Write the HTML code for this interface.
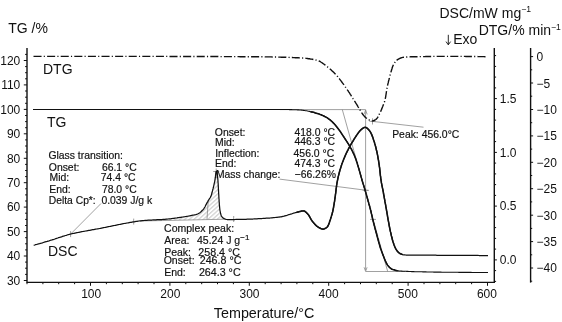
<!DOCTYPE html>
<html><head><meta charset="utf-8"><title>TG / DTG / DSC</title>
<style>html,body{margin:0;padding:0;background:#fff}svg{display:block}</style></head>
<body>
<svg width="562" height="322" viewBox="0 0 562 322">
<rect width="562" height="322" fill="#fff"/>
<g stroke="#111" stroke-width="1.4" fill="none" stroke-linecap="butt">
<path d="M27,48 V282.4 H495"/>
<path d="M494.3,48 V282.4"/>
<path d="M530.6,48 V282.6"/>
</g>
<g stroke="#111" stroke-width="1" fill="none">
<path d="M23.8,280.5H27M25.1,274.4H27M25.1,268.2H27M25.1,262.1H27M23.8,256.0H27M25.1,249.9H27M25.1,243.8H27M25.1,237.7H27M23.8,231.6H27M25.1,225.5H27M25.1,219.4H27M25.1,213.2H27M23.8,207.1H27M25.1,201.0H27M25.1,194.9H27M25.1,188.8H27M23.8,182.7H27M25.1,176.6H27M25.1,170.5H27M25.1,164.4H27M23.8,158.3H27M25.1,152.1H27M25.1,146.0H27M25.1,139.9H27M23.8,133.8H27M25.1,127.7H27M25.1,121.6H27M25.1,115.5H27M23.8,109.4H27M25.1,103.3H27M25.1,97.2H27M25.1,91.0H27M23.8,84.9H27M25.1,78.8H27M25.1,72.7H27M25.1,66.6H27M23.8,60.5H27M25.1,54.4H27M27.0,282.4V284.2M42.9,282.4V284.2M58.7,282.4V284.2M74.6,282.4V284.2M90.5,282.4V285.8M106.4,282.4V284.2M122.3,282.4V284.2M138.1,282.4V284.2M154.0,282.4V284.2M169.9,282.4V285.8M185.8,282.4V284.2M201.7,282.4V284.2M217.5,282.4V284.2M233.4,282.4V284.2M249.3,282.4V285.8M265.2,282.4V284.2M281.1,282.4V284.2M296.9,282.4V284.2M312.8,282.4V284.2M328.7,282.4V285.8M344.6,282.4V284.2M360.5,282.4V284.2M376.3,282.4V284.2M392.2,282.4V284.2M408.1,282.4V285.8M424.0,282.4V284.2M439.9,282.4V284.2M455.7,282.4V284.2M471.6,282.4V284.2M487.5,282.4V285.8M494.3,281.4h1.8M494.3,270.6h1.8M494.3,259.9h2.6M494.3,249.1h1.8M494.3,238.4h1.8M494.3,227.6h1.8M494.3,216.9h1.8M494.3,206.1h2.6M494.3,195.4h1.8M494.3,184.6h1.8M494.3,173.9h1.8M494.3,163.1h1.8M494.3,152.4h2.6M494.3,141.6h1.8M494.3,130.9h1.8M494.3,120.1h1.8M494.3,109.4h1.8M494.3,98.6h2.6M494.3,87.9h1.8M494.3,77.1h1.8M494.3,66.4h1.8M494.3,55.6h1.8M530.6,281.2h1.6M530.6,268.0h2.5M530.6,254.8h1.6M530.6,241.6h2.5M530.6,228.4h1.6M530.6,215.2h2.5M530.6,201.9h1.6M530.6,188.7h2.5M530.6,175.5h1.6M530.6,162.3h2.5M530.6,149.1h1.6M530.6,135.9h2.5M530.6,122.7h1.6M530.6,109.5h2.5M530.6,96.2h1.6M530.6,83.0h2.5M530.6,69.8h1.6M530.6,56.6h2.5"/>
</g>
<defs><pattern id="h" width="3.1" height="3.1" patternUnits="userSpaceOnUse" patternTransform="rotate(-42)"><line x1="0" y1="1.5" x2="3.1" y2="1.5" stroke="#8c8c8c" stroke-width="0.5"/></pattern></defs>
<path d="M150.0,220.1 L151.0,220.0 L152.0,220.0 L153.0,219.9 L154.0,219.9 L155.0,219.8 L156.0,219.8 L157.0,219.7 L158.0,219.7 L159.0,219.6 L160.0,219.6 L161.0,219.5 L162.0,219.5 L163.0,219.4 L164.0,219.4 L165.0,219.3 L166.0,219.2 L167.0,219.1 L168.0,219.0 L169.0,218.9 L170.0,218.8 L171.0,218.7 L172.0,218.5 L173.0,218.4 L174.0,218.3 L175.0,218.1 L176.0,218.0 L177.0,217.9 L178.0,217.7 L179.0,217.6 L180.0,217.4 L181.0,217.3 L181.9,217.1 L182.9,217.0 L183.9,216.8 L184.9,216.7 L185.9,216.5 L186.9,216.3 L187.9,216.2 L188.9,216.0 L189.8,215.8 L190.8,215.6 L191.8,215.4 L192.9,215.2 L193.9,215.0 L194.8,214.8 L195.8,214.6 L196.7,214.3 L197.6,214.0 L198.5,213.5 L199.4,213.0 L200.2,212.4 L201.0,211.7 L201.7,211.0 L202.4,210.3 L203.1,209.6 L203.7,208.8 L204.3,207.9 L204.8,207.1 L205.3,206.2 L205.7,205.3 L206.2,204.4 L206.6,203.5 L207.1,202.6 L207.6,201.8 L208.1,200.9 L208.6,200.0 L209.2,199.2 L209.7,198.3 L210.3,197.5 L210.8,196.6 L211.1,195.7 L211.5,194.8 L211.7,193.8 L212.0,192.8 L212.2,191.9 L212.5,190.9 L212.7,189.9 L213.0,188.9 L213.2,188.0 L213.5,187.0 L213.7,186.0 L213.9,185.0 L214.1,184.1 L214.3,183.1 L214.6,182.1 L214.8,181.1 L214.9,180.1 L215.1,179.1 L215.2,178.2 L215.4,177.2 L215.5,176.2 L215.6,175.1 L215.7,174.2 L215.8,173.2 L216.0,172.1 L216.4,171.2 L216.8,171.9 L217.0,173.0 L217.2,174.0 L217.4,175.0 L217.5,176.0 L217.6,177.0 L217.7,178.0 L217.8,179.0 L217.9,180.0 L218.0,181.0 L218.0,182.0 L218.1,183.0 L218.2,184.0 L218.2,185.0 L218.3,186.0 L218.3,187.0 L218.4,188.0 L218.4,189.0 L218.5,190.0 L218.5,191.0 L218.6,192.0 L218.6,193.0 L218.7,194.0 L218.8,195.0 L218.8,196.0 L218.9,197.0 L218.9,198.0 L219.0,199.0 L219.1,200.0 L219.1,201.0 L219.2,202.0 L219.3,203.0 L219.3,204.0 L219.4,205.0 L219.5,206.0 L219.6,207.0 L219.7,208.0 L219.8,209.0 L219.9,210.0 L220.1,211.0 L220.3,212.0 L220.5,213.0 L220.7,214.0 L221.0,214.9 L221.3,215.8 L221.9,216.7 L222.5,217.5 L223.3,218.1 L224.2,218.6 L225.1,219.0 L225.3,219.2 L150,220.8 Z" fill="url(#h)" stroke="none"/>
<g stroke="#828282" stroke-width="0.75" fill="none">
<path d="M140,221 L226,219.2"/>
<path d="M208.2,201 L207,219.3"/>
<path d="M101,203.5 L70.6,234.1"/>
<path d="M280,109.6 H365.6 V270"/>
<path d="M342.3,109.6 L387.7,271.5"/>
<path d="M365.6,271.5 H405"/>
<path d="M279.5,179.1 L368.7,190.6"/>
<path d="M372.5,121.4 L423.5,127.2"/>
<path d="M364.1,267.3 L365.6,271.3 L367.1,267.3"/>
<path d="M364.0,114.4 L365.6,110 L367.2,114.4"/>
<path d="M70.6,231.1v6 M133.7,218.6v6 M233.7,216v6 M216.2,168.5v6 M213.2,171.5h6 M372.5,118.3v6.2 M369.4,121.4h6.2 M370,219.4h6 M362.6,190.2h6"/>
</g>
<g stroke="#111" fill="none" stroke-linejoin="round" stroke-linecap="butt">
<path d="M33.7,245.3 L34.7,245.0 L35.6,244.7 L36.6,244.5 L37.6,244.2 L38.5,243.9 L39.5,243.6 L40.4,243.3 L41.4,243.1 L42.4,242.8 L43.3,242.5 L44.3,242.2 L45.2,241.9 L46.2,241.6 L47.2,241.4 L48.1,241.1 L49.1,240.8 L50.0,240.5 L51.0,240.2 L52.0,239.9 L52.9,239.6 L53.9,239.3 L54.8,239.0 L55.8,238.6 L56.7,238.3 L57.7,238.0 L58.6,237.7 L59.6,237.4 L60.5,237.1 L61.5,236.8 L62.5,236.4 L63.4,236.1 L64.4,235.8 L65.3,235.5 L66.3,235.3 L67.2,235.0 L68.2,234.7 L69.2,234.5 L70.1,234.2 L71.1,234.0 L72.1,233.7 L73.1,233.5 L74.0,233.3 L75.0,233.1 L76.0,232.9 L77.0,232.7 L77.9,232.5 L78.9,232.3 L79.9,232.1 L80.9,231.9 L81.9,231.7 L82.9,231.5 L83.9,231.3 L84.8,231.2 L85.8,231.0 L86.8,230.8 L87.8,230.6 L88.8,230.4 L89.8,230.3 L90.8,230.1 L91.8,229.9 L92.7,229.7 L93.7,229.6 L94.7,229.4 L95.7,229.2 L96.7,229.0 L97.7,228.8 L98.7,228.7 L99.7,228.5 L100.6,228.3 L101.6,228.1 L102.6,227.9 L103.6,227.7 L104.6,227.5 L105.6,227.3 L106.5,227.1 L107.5,226.9 L108.5,226.7 L109.5,226.5 L110.5,226.3 L111.4,226.1 L112.4,225.9 L113.4,225.7 L114.4,225.5 L115.4,225.3 L116.4,225.1 L117.3,224.9 L118.3,224.7 L119.3,224.5 L120.3,224.3 L121.3,224.1 L122.3,223.9 L123.2,223.7 L124.2,223.5 L125.2,223.3 L126.2,223.2 L127.2,223.0 L128.2,222.8 L129.2,222.6 L130.1,222.4 L131.1,222.3 L132.1,222.1 L133.1,221.9 L134.1,221.8 L135.1,221.6 L136.1,221.4 L137.1,221.3 L138.1,221.1 L139.0,221.0 L140.0,220.9 L141.0,220.8 L142.0,220.7 L143.0,220.6 L144.0,220.5 L145.0,220.4 L146.0,220.4 L147.0,220.3 L148.0,220.2 L149.0,220.2 L150.0,220.1 L151.0,220.0 L152.0,220.0 L153.0,219.9 L154.0,219.9 L155.0,219.8 L156.0,219.8 L157.0,219.7 L158.0,219.7 L159.0,219.6 L160.0,219.6 L161.0,219.5 L162.0,219.5 L163.0,219.4 L164.0,219.4 L165.0,219.3 L166.0,219.2 L167.0,219.1 L168.0,219.0 L169.0,218.9 L170.0,218.8 L171.0,218.7 L172.0,218.5 L173.0,218.4 L174.0,218.3 L175.0,218.1 L176.0,218.0 L177.0,217.9 L178.0,217.7 L179.0,217.6 L180.0,217.4 L181.0,217.3 L181.9,217.1 L182.9,217.0 L183.9,216.8 L184.9,216.7 L185.9,216.5 L186.9,216.3 L187.9,216.2 L188.9,216.0 L189.8,215.8 L190.8,215.6 L191.8,215.4 L192.9,215.2 L193.9,215.0 L194.8,214.8 L195.8,214.6 L196.7,214.3 L197.6,214.0 L198.5,213.5 L199.4,213.0 L200.2,212.4 L201.0,211.7 L201.7,211.0 L202.4,210.3 L203.1,209.6 L203.7,208.8 L204.3,207.9 L204.8,207.1 L205.3,206.2 L205.7,205.3 L206.2,204.4 L206.6,203.5 L207.1,202.6 L207.6,201.8 L208.1,200.9 L208.6,200.0 L209.2,199.2 L209.7,198.3 L210.3,197.5 L210.8,196.6 L211.1,195.7 L211.5,194.8 L211.7,193.8 L212.0,192.8 L212.2,191.9 L212.5,190.9 L212.7,189.9 L213.0,188.9 L213.2,188.0 L213.5,187.0 L213.7,186.0 L213.9,185.0 L214.1,184.1 L214.3,183.1 L214.6,182.1 L214.8,181.1 L214.9,180.1 L215.1,179.1 L215.2,178.2 L215.4,177.2 L215.5,176.2 L215.6,175.1 L215.7,174.2 L215.8,173.2 L216.0,172.1 L216.4,171.2 L216.8,171.9 L217.0,173.0 L217.2,174.0 L217.4,175.0 L217.5,176.0 L217.6,177.0 L217.7,178.0 L217.8,179.0 L217.9,180.0 L218.0,181.0 L218.0,182.0 L218.1,183.0 L218.2,184.0 L218.2,185.0 L218.3,186.0 L218.3,187.0 L218.4,188.0 L218.4,189.0 L218.5,190.0 L218.5,191.0 L218.6,192.0 L218.6,193.0 L218.7,194.0 L218.8,195.0 L218.8,196.0 L218.9,197.0 L218.9,198.0 L219.0,199.0 L219.1,200.0 L219.1,201.0 L219.2,202.0 L219.3,203.0 L219.3,204.0 L219.4,205.0 L219.5,206.0 L219.6,207.0 L219.7,208.0 L219.8,209.0 L219.9,210.0 L220.1,211.0 L220.3,212.0 L220.5,213.0 L220.7,214.0 L221.0,214.9 L221.3,215.8 L221.9,216.7 L222.5,217.5 L223.3,218.1 L224.2,218.6 L225.1,219.0 L226.1,219.3 L227.0,219.5 L228.0,219.5 L229.0,219.5 L230.0,219.5 L231.0,219.5 L232.0,219.5 L233.0,219.5 L234.0,219.5 L235.0,219.5 L236.0,219.4 L237.0,219.4 L238.1,219.4 L239.1,219.4 L240.1,219.4 L241.1,219.4 L242.1,219.4 L243.1,219.3 L244.1,219.3 L245.1,219.3 L246.1,219.3 L247.1,219.2 L248.1,219.2 L249.1,219.1 L250.1,219.1 L251.1,219.1 L252.1,219.0 L253.1,219.0 L254.1,218.9 L255.1,218.9 L256.1,218.8 L257.1,218.8 L258.1,218.7 L259.1,218.6 L260.1,218.6 L261.1,218.5 L262.1,218.5 L263.1,218.4 L264.1,218.4 L265.1,218.3 L266.1,218.2 L267.1,218.2 L268.1,218.1 L269.1,218.0 L270.1,218.0 L271.1,217.9 L272.1,217.8 L273.1,217.7 L274.1,217.6 L275.1,217.5 L276.1,217.4 L277.1,217.3 L278.1,217.2 L279.1,217.1 L280.1,216.9 L281.1,216.8 L282.0,216.6 L283.0,216.4 L284.0,216.2 L284.9,215.9 L285.9,215.6 L286.9,215.3 L287.8,215.0 L288.8,214.7 L289.8,214.4 L290.7,214.1 L291.7,213.8 L292.6,213.5 L293.6,213.2 L294.6,212.9 L295.5,212.6 L296.5,212.4 L297.4,212.1 L298.4,211.9 L299.4,211.6 L300.4,211.4 L301.4,211.1 L302.4,211.0 L303.4,210.9 L304.3,211.0 L305.1,211.5 L306.0,212.2 L306.8,213.0 L307.5,213.7 L308.1,214.4 L308.7,215.2 L309.2,216.0 L309.7,216.9 L310.2,217.8 L310.7,218.7 L311.2,219.6 L311.8,220.5 L312.4,221.3 L313.0,222.1 L313.6,222.8 L314.3,223.6 L315.0,224.4 L315.7,225.1 L316.4,225.8 L317.2,226.4 L318.0,227.0 L318.8,227.5 L319.8,228.0 L320.7,228.5 L321.7,228.9 L322.6,229.1 L323.5,229.1 L324.5,228.8 L325.5,228.3 L326.4,227.7 L327.1,227.1 L327.7,226.4 L328.1,225.6 L328.6,224.7 L328.9,223.7 L329.3,222.7 L329.6,221.7 L329.9,220.7 L330.3,219.7 L330.6,218.8 L330.9,217.8 L331.2,216.9 L331.5,215.9 L331.8,214.9 L332.1,214.0 L332.3,213.0 L332.6,212.0 L332.8,211.1 L333.0,210.1 L333.2,209.1 L333.4,208.1 L333.6,207.1 L333.7,206.1 L333.9,205.2 L334.1,204.2 L334.2,203.2 L334.4,202.2 L334.6,201.2 L334.7,200.2 L334.8,199.2 L335.0,198.2 L335.1,197.2 L335.3,196.2 L335.4,195.2 L335.5,194.2 L335.7,193.2 L335.8,192.2 L335.9,191.3 L336.0,190.3 L336.1,189.3 L336.2,188.3 L336.4,187.3 L336.5,186.3 L336.6,185.3 L336.8,184.3 L336.9,183.3 L337.1,182.3 L337.3,181.3 L337.5,180.4 L337.7,179.4 L337.9,178.4 L338.1,177.4 L338.3,176.4 L338.6,175.4 L338.8,174.5 L339.1,173.5 L339.3,172.5 L339.6,171.6 L339.8,170.6 L340.1,169.6 L340.4,168.7 L340.7,167.7 L341.0,166.8 L341.3,165.8 L341.6,164.9 L341.9,163.9 L342.3,163.0 L342.6,162.0 L343.0,161.1 L343.4,160.1 L343.7,159.2 L344.1,158.3 L344.5,157.4 L344.9,156.4 L345.3,155.5 L345.7,154.6 L346.1,153.7 L346.5,152.8 L347.0,151.9 L347.4,151.0 L347.9,150.1 L348.3,149.2 L348.8,148.3 L349.3,147.4 L349.8,146.6 L350.2,145.7 L350.7,144.8 L351.2,143.9 L351.7,143.1 L352.3,142.2 L352.8,141.3 L353.3,140.5 L353.8,139.6 L354.3,138.8 L354.9,137.9 L355.4,137.1 L356.0,136.3 L356.5,135.4 L357.1,134.6 L357.7,133.7 L358.3,132.9 L358.9,132.1 L359.5,131.3 L360.2,130.6 L360.9,129.9 L361.7,129.2 L362.5,128.5 L363.4,127.9 L364.3,127.5 L365.1,127.3 L366.0,127.5 L366.9,128.0 L367.7,128.7 L368.5,129.5 L369.2,130.3 L369.8,131.1 L370.3,131.8 L370.8,132.7 L371.2,133.6 L371.7,134.5 L372.0,135.4 L372.4,136.4 L372.8,137.4 L373.1,138.4 L373.4,139.4 L373.7,140.3 L374.1,141.3 L374.4,142.2 L374.6,143.2 L374.9,144.1 L375.2,145.1 L375.5,146.1 L375.7,147.1 L376.0,148.0 L376.2,149.0 L376.4,150.0 L376.7,151.0 L376.9,151.9 L377.1,152.9 L377.3,153.9 L377.5,154.9 L377.7,155.9 L377.9,156.8 L378.0,157.8 L378.2,158.8 L378.4,159.8 L378.6,160.8 L378.7,161.8 L378.9,162.8 L379.0,163.8 L379.2,164.8 L379.3,165.8 L379.4,166.8 L379.6,167.7 L379.7,168.7 L379.8,169.7 L379.9,170.7 L380.0,171.7 L380.1,172.7 L380.2,173.7 L380.3,174.7 L380.4,175.7 L380.6,176.7 L380.7,177.7 L380.8,178.7 L381.0,179.7 L381.1,180.7 L381.3,181.7 L381.4,182.7 L381.6,183.6 L381.8,184.6 L382.0,185.6 L382.2,186.6 L382.4,187.6 L382.6,188.6 L382.8,189.5 L383.0,190.5 L383.2,191.5 L383.4,192.5 L383.5,193.5 L383.7,194.5 L383.9,195.5 L384.1,196.4 L384.2,197.4 L384.4,198.4 L384.6,199.4 L384.8,200.4 L384.9,201.4 L385.1,202.4 L385.3,203.4 L385.5,204.3 L385.7,205.3 L385.8,206.3 L386.0,207.3 L386.2,208.3 L386.4,209.3 L386.5,210.3 L386.7,211.2 L386.9,212.2 L387.0,213.2 L387.2,214.2 L387.4,215.2 L387.5,216.2 L387.7,217.2 L387.9,218.2 L388.0,219.2 L388.2,220.1 L388.4,221.1 L388.6,222.1 L388.8,223.1 L389.0,224.1 L389.1,225.1 L389.3,226.1 L389.5,227.0 L389.7,228.0 L389.9,229.0 L390.1,230.0 L390.3,231.0 L390.5,231.9 L390.8,232.9 L391.0,233.9 L391.2,234.9 L391.4,235.9 L391.7,236.8 L391.9,237.8 L392.2,238.8 L392.4,239.8 L392.7,240.7 L393.0,241.7 L393.3,242.6 L393.6,243.6 L393.9,244.5 L394.3,245.5 L394.7,246.5 L395.1,247.4 L395.5,248.3 L396.0,249.2 L396.5,250.0 L397.0,250.8 L397.7,251.6 L398.4,252.4 L399.2,253.0 L400.0,253.6 L400.9,253.9 L401.8,254.3 L402.8,254.6 L403.8,254.8 L404.8,254.9 L405.8,255.0 L406.8,255.0 L407.8,255.1 L408.8,255.1 L409.8,255.1 L410.8,255.1 L411.8,255.1 L412.8,255.1 L413.8,255.1 L414.8,255.1 L415.8,255.2 L416.8,255.2 L417.8,255.2 L418.8,255.2 L419.8,255.2 L420.8,255.2 L421.8,255.2 L422.8,255.2 L423.9,255.2 L424.9,255.2 L425.9,255.2 L426.9,255.2 L427.9,255.2 L428.9,255.2 L429.9,255.2 L430.9,255.2 L431.9,255.2 L432.9,255.2 L433.9,255.2 L434.9,255.2 L435.9,255.2 L436.9,255.3 L437.9,255.3 L438.9,255.3 L439.9,255.3 L440.9,255.3 L441.9,255.3 L442.9,255.3 L443.9,255.3 L444.9,255.3 L445.9,255.3 L446.9,255.3 L447.9,255.3 L448.9,255.3 L449.9,255.3 L450.9,255.3 L451.9,255.3 L452.9,255.3 L453.9,255.3 L454.9,255.3 L455.9,255.3 L456.9,255.3 L457.9,255.3 L458.9,255.3 L459.9,255.4 L460.9,255.4 L461.9,255.4 L462.9,255.4 L463.9,255.4 L464.9,255.4 L465.9,255.4 L467.0,255.4 L468.0,255.4 L469.0,255.4 L470.0,255.4 L471.0,255.4 L472.0,255.4 L473.0,255.4 L474.0,255.4 L475.0,255.4 L476.0,255.4 L477.0,255.4 L478.0,255.4 L479.0,255.5 L480.0,255.5 L481.0,255.5 L482.0,255.5 L483.0,255.5 L484.0,255.5 L485.0,255.5 L486.0,255.5 L487.0,255.5 L488.0,255.5" stroke-width="1.25"/>
<path d="M33.0,109.5 L34.0,109.5 L35.0,109.5 L36.0,109.5 L37.0,109.5 L38.0,109.5 L39.0,109.5 L40.0,109.5 L41.0,109.5 L42.0,109.5 L43.0,109.5 L44.0,109.5 L45.0,109.5 L46.0,109.5 L47.0,109.5 L48.0,109.5 L49.0,109.5 L50.0,109.5 L51.0,109.5 L52.0,109.5 L53.0,109.5 L54.0,109.5 L55.0,109.5 L56.1,109.5 L57.1,109.5 L58.1,109.5 L59.1,109.5 L60.1,109.5 L61.1,109.5 L62.1,109.5 L63.1,109.5 L64.1,109.5 L65.1,109.5 L66.1,109.5 L67.1,109.5 L68.1,109.5 L69.1,109.5 L70.1,109.5 L71.1,109.5 L72.1,109.5 L73.1,109.5 L74.1,109.5 L75.1,109.5 L76.1,109.5 L77.1,109.5 L78.1,109.5 L79.1,109.5 L80.1,109.5 L81.1,109.5 L82.1,109.5 L83.1,109.5 L84.1,109.5 L85.1,109.5 L86.1,109.5 L87.1,109.5 L88.1,109.5 L89.1,109.5 L90.1,109.5 L91.1,109.5 L92.1,109.5 L93.1,109.5 L94.1,109.5 L95.1,109.5 L96.1,109.5 L97.1,109.5 L98.1,109.5 L99.1,109.5 L100.1,109.5 L101.2,109.5 L102.2,109.5 L103.2,109.5 L104.2,109.5 L105.2,109.5 L106.2,109.5 L107.2,109.5 L108.2,109.5 L109.2,109.5 L110.2,109.5 L111.2,109.5 L112.2,109.5 L113.2,109.5 L114.2,109.5 L115.2,109.5 L116.2,109.5 L117.2,109.5 L118.2,109.5 L119.2,109.5 L120.2,109.5 L121.2,109.5 L122.2,109.5 L123.2,109.5 L124.2,109.5 L125.2,109.5 L126.2,109.5 L127.2,109.5 L128.2,109.5 L129.2,109.5 L130.2,109.5 L131.2,109.5 L132.2,109.5 L133.2,109.5 L134.2,109.5 L135.2,109.5 L136.2,109.5 L137.2,109.5 L138.2,109.5 L139.2,109.5 L140.2,109.5 L141.2,109.5 L142.2,109.5 L143.2,109.5 L144.2,109.5 L145.2,109.5 L146.3,109.5 L147.3,109.5 L148.3,109.5 L149.3,109.5 L150.3,109.5 L151.3,109.5 L152.3,109.5 L153.3,109.5 L154.3,109.5 L155.3,109.5 L156.3,109.5 L157.3,109.5 L158.3,109.5 L159.3,109.5 L160.3,109.5 L161.3,109.5 L162.3,109.5 L163.3,109.5 L164.3,109.5 L165.3,109.5 L166.3,109.5 L167.3,109.5 L168.3,109.5 L169.3,109.5 L170.3,109.5 L171.3,109.5 L172.3,109.5 L173.3,109.5 L174.3,109.5 L175.3,109.5 L176.3,109.5 L177.3,109.5 L178.3,109.5 L179.3,109.5 L180.3,109.5 L181.3,109.5 L182.3,109.5 L183.3,109.5 L184.3,109.5 L185.3,109.5 L186.3,109.5 L187.3,109.5 L188.3,109.5 L189.3,109.5 L190.3,109.5 L191.4,109.5 L192.4,109.5 L193.4,109.5 L194.4,109.5 L195.4,109.5 L196.4,109.5 L197.4,109.5 L198.4,109.5 L199.4,109.5 L200.4,109.5 L201.4,109.5 L202.4,109.5 L203.4,109.5 L204.4,109.5 L205.4,109.5 L206.4,109.5 L207.4,109.5 L208.4,109.5 L209.4,109.5 L210.4,109.5 L211.4,109.5 L212.4,109.5 L213.4,109.5 L214.4,109.5 L215.4,109.5 L216.4,109.5 L217.4,109.5 L218.4,109.5 L219.4,109.5 L220.4,109.5 L221.4,109.5 L222.4,109.5 L223.4,109.5 L224.4,109.5 L225.4,109.5 L226.4,109.5 L227.4,109.5 L228.4,109.5 L229.4,109.5 L230.4,109.5 L231.4,109.5 L232.4,109.5 L233.4,109.5 L234.4,109.5 L235.5,109.5 L236.5,109.5 L237.5,109.5 L238.5,109.5 L239.5,109.5 L240.5,109.5 L241.5,109.5 L242.5,109.5 L243.5,109.5 L244.5,109.5 L245.5,109.5 L246.5,109.5 L247.5,109.5 L248.5,109.5 L249.5,109.5 L250.5,109.5 L251.5,109.5 L252.5,109.5 L253.5,109.5 L254.5,109.5 L255.5,109.5 L256.5,109.5 L257.5,109.5 L258.5,109.5 L259.5,109.5 L260.5,109.5 L261.5,109.5 L262.5,109.5 L263.5,109.5 L264.5,109.5 L265.5,109.5 L266.5,109.5 L267.5,109.5 L268.5,109.5 L269.5,109.5 L270.5,109.5 L271.5,109.5 L272.5,109.5 L273.5,109.5 L274.5,109.5 L275.5,109.5 L276.5,109.5 L277.5,109.5 L278.5,109.5 L279.5,109.5 L280.6,109.5 L281.6,109.5 L282.6,109.5 L283.6,109.5 L284.6,109.5 L285.6,109.5 L286.6,109.5 L287.6,109.5 L288.6,109.5 L289.6,109.6 L290.6,109.6 L291.6,109.6 L292.6,109.7 L293.6,109.7 L294.6,109.7 L295.6,109.8 L296.6,109.8 L297.6,109.9 L298.6,109.9 L299.6,110.0 L300.6,110.0 L301.6,110.1 L302.6,110.2 L303.6,110.4 L304.6,110.5 L305.6,110.7 L306.6,110.8 L307.5,111.0 L308.5,111.2 L309.5,111.4 L310.5,111.7 L311.5,111.9 L312.4,112.1 L313.4,112.3 L314.4,112.6 L315.3,112.9 L316.3,113.2 L317.3,113.5 L318.3,113.8 L319.2,114.1 L320.2,114.5 L321.1,114.8 L322.0,115.2 L322.9,115.6 L323.8,116.0 L324.7,116.5 L325.6,116.9 L326.5,117.4 L327.3,117.9 L328.1,118.5 L329.0,119.1 L329.8,119.7 L330.6,120.4 L331.3,121.0 L332.1,121.7 L332.8,122.4 L333.5,123.1 L334.2,123.8 L334.8,124.5 L335.5,125.3 L336.1,126.1 L336.8,126.9 L337.4,127.7 L338.0,128.5 L338.6,129.3 L339.2,130.1 L339.8,130.9 L340.4,131.7 L340.9,132.5 L341.5,133.4 L342.0,134.2 L342.6,135.1 L343.1,135.9 L343.7,136.7 L344.2,137.6 L344.8,138.4 L345.3,139.3 L345.9,140.1 L346.4,140.9 L347.0,141.8 L347.5,142.6 L348.1,143.5 L348.6,144.3 L349.1,145.2 L349.7,146.0 L350.1,146.9 L350.6,147.8 L351.1,148.6 L351.6,149.5 L352.0,150.4 L352.5,151.3 L352.9,152.2 L353.3,153.1 L353.8,154.1 L354.2,155.0 L354.6,155.9 L354.9,156.8 L355.3,157.7 L355.7,158.7 L356.0,159.6 L356.3,160.6 L356.6,161.5 L357.0,162.5 L357.3,163.4 L357.5,164.4 L357.8,165.3 L358.1,166.3 L358.4,167.3 L358.7,168.2 L359.0,169.2 L359.2,170.2 L359.5,171.1 L359.8,172.1 L360.1,173.1 L360.3,174.0 L360.6,175.0 L360.9,176.0 L361.1,176.9 L361.4,177.9 L361.7,178.9 L361.9,179.8 L362.2,180.8 L362.5,181.7 L362.8,182.7 L363.1,183.7 L363.4,184.6 L363.7,185.6 L364.0,186.5 L364.3,187.5 L364.6,188.4 L364.9,189.4 L365.1,190.4 L365.4,191.3 L365.7,192.3 L366.0,193.3 L366.3,194.2 L366.5,195.2 L366.8,196.1 L367.1,197.1 L367.3,198.1 L367.6,199.0 L367.9,200.0 L368.1,201.0 L368.4,201.9 L368.7,202.9 L368.9,203.9 L369.2,204.8 L369.5,205.8 L369.8,206.8 L370.0,207.7 L370.3,208.7 L370.5,209.7 L370.8,210.6 L371.0,211.6 L371.2,212.6 L371.4,213.6 L371.7,214.6 L371.9,215.5 L372.1,216.5 L372.3,217.5 L372.5,218.5 L372.8,219.4 L373.0,220.4 L373.2,221.4 L373.5,222.4 L373.7,223.3 L374.0,224.3 L374.2,225.3 L374.5,226.2 L374.7,227.2 L375.0,228.2 L375.2,229.2 L375.5,230.1 L375.8,231.1 L376.0,232.1 L376.3,233.0 L376.6,234.0 L376.8,235.0 L377.1,235.9 L377.3,236.9 L377.6,237.9 L377.9,238.8 L378.1,239.8 L378.4,240.8 L378.6,241.7 L378.9,242.7 L379.2,243.7 L379.5,244.6 L379.7,245.6 L380.0,246.5 L380.3,247.5 L380.6,248.5 L381.0,249.4 L381.3,250.4 L381.6,251.3 L382.0,252.2 L382.3,253.2 L382.7,254.1 L383.0,255.1 L383.4,256.0 L383.8,256.9 L384.1,257.8 L384.5,258.8 L384.9,259.7 L385.3,260.7 L385.7,261.6 L386.2,262.6 L386.6,263.5 L387.1,264.3 L387.6,265.1 L388.2,265.9 L388.8,266.6 L389.6,267.4 L390.4,268.1 L391.2,268.7 L392.1,269.2 L392.9,269.5 L393.9,269.8 L394.8,270.1 L395.8,270.4 L396.8,270.6 L397.8,270.7 L398.8,270.9 L399.8,271.0 L400.8,271.0 L401.8,271.1 L402.8,271.2 L403.8,271.2 L404.8,271.3 L405.8,271.3 L406.8,271.4 L407.8,271.4 L408.8,271.5 L409.8,271.5 L410.8,271.5 L411.8,271.6 L412.8,271.6 L413.8,271.6 L414.8,271.7 L415.8,271.7 L416.8,271.7 L417.8,271.7 L418.9,271.8 L419.9,271.8 L420.9,271.8 L421.9,271.8 L422.9,271.9 L423.9,271.9 L424.9,271.9 L425.9,271.9 L426.9,272.0 L427.9,272.0 L428.9,272.0 L429.9,272.0 L430.9,272.0 L431.9,272.0 L432.9,272.0 L433.9,272.1 L434.9,272.1 L435.9,272.1 L436.9,272.1 L437.9,272.1 L438.9,272.1 L439.9,272.1 L440.9,272.1 L441.9,272.2 L442.9,272.2 L443.9,272.2 L444.9,272.2 L445.9,272.2 L446.9,272.2 L447.9,272.2 L448.9,272.2 L449.9,272.3 L450.9,272.3 L451.9,272.3 L452.9,272.3 L453.9,272.3 L454.9,272.3 L455.9,272.3 L456.9,272.3 L457.9,272.3 L458.9,272.4 L459.9,272.4 L460.9,272.4 L461.9,272.4 L462.9,272.4 L463.9,272.4 L464.9,272.4 L465.9,272.4 L467.0,272.4 L468.0,272.4 L469.0,272.4 L470.0,272.4 L471.0,272.4 L472.0,272.5 L473.0,272.5 L474.0,272.5 L475.0,272.5 L476.0,272.5 L477.0,272.5 L478.0,272.5 L479.0,272.5 L480.0,272.5 L481.0,272.5 L482.0,272.5 L483.0,272.5 L484.0,272.5 L485.0,272.5 L486.0,272.5 L487.0,272.5 L488.0,272.5" stroke-width="1.1"/>
<path d="M296.5,212.4 L297.4,212.1 L298.4,211.9 L299.4,211.6 L300.4,211.4 L301.4,211.1 L302.4,211.0 L303.4,210.9 L304.3,211.0 L305.1,211.5 L306.0,212.2 L306.8,213.0 L307.5,213.7 L308.1,214.4 L308.7,215.2 L309.2,216.0 L309.7,216.9 L310.2,217.8 L310.7,218.7 L311.2,219.6 L311.8,220.5 L312.4,221.3 L313.0,222.1 L313.6,222.8 L314.3,223.6 L315.0,224.4 L315.7,225.1 L316.4,225.8 L317.2,226.4 L318.0,227.0 L318.8,227.5 L319.8,228.0 L320.7,228.5 L321.7,228.9 L322.6,229.1 L323.5,229.1 L324.5,228.8 L325.5,228.3 L326.4,227.7 L327.1,227.1 L327.7,226.4 L328.1,225.6 L328.6,224.7 L328.9,223.7 L329.3,222.7 L329.6,221.7 L329.9,220.7 L330.3,219.7 L330.6,218.8 L330.9,217.8 L331.2,216.9 L331.5,215.9 L331.8,214.9 L332.1,214.0 L332.3,213.0 L332.6,212.0 L332.8,211.1 L333.0,210.1 L333.2,209.1 L333.4,208.1 L333.6,207.1 L333.7,206.1 L333.9,205.2 L334.1,204.2 L334.2,203.2 L334.4,202.2 L334.6,201.2 L334.7,200.2 L334.8,199.2 L335.0,198.2 L335.1,197.2 L335.3,196.2 L335.4,195.2 L335.5,194.2 L335.7,193.2 L335.8,192.2 L335.9,191.3 L336.0,190.3 L336.1,189.3 L336.2,188.3 L336.4,187.3 L336.5,186.3 L336.6,185.3 L336.8,184.3 L336.9,183.3 L337.1,182.3 L337.3,181.3 L337.5,180.4 L337.7,179.4 L337.9,178.4 L338.1,177.4 L338.3,176.4 L338.6,175.4 L338.8,174.5 L339.1,173.5 L339.3,172.5 L339.6,171.6 L339.8,170.6 L340.1,169.6 L340.4,168.7 L340.7,167.7 L341.0,166.8 L341.3,165.8 L341.6,164.9 L341.9,163.9 L342.3,163.0 L342.6,162.0 L343.0,161.1 L343.4,160.1 L343.7,159.2 L344.1,158.3 L344.5,157.4 L344.9,156.4 L345.3,155.5 L345.7,154.6 L346.1,153.7 L346.5,152.8 L347.0,151.9 L347.4,151.0 L347.9,150.1 L348.3,149.2 L348.8,148.3 L349.3,147.4 L349.8,146.6 L350.2,145.7 L350.7,144.8 L351.2,143.9 L351.7,143.1 L352.3,142.2 L352.8,141.3 L353.3,140.5 L353.8,139.6 L354.3,138.8 L354.9,137.9 L355.4,137.1 L356.0,136.3 L356.5,135.4 L357.1,134.6 L357.7,133.7 L358.3,132.9 L358.9,132.1 L359.5,131.3 L360.2,130.6 L360.9,129.9 L361.7,129.2 L362.5,128.5 L363.4,127.9 L364.3,127.5 L365.1,127.3 L366.0,127.5 L366.9,128.0 L367.7,128.7 L368.5,129.5 L369.2,130.3 L369.8,131.1 L370.3,131.8 L370.8,132.7 L371.2,133.6 L371.7,134.5 L372.0,135.4 L372.4,136.4 L372.8,137.4 L373.1,138.4 L373.4,139.4 L373.7,140.3 L374.1,141.3 L374.4,142.2 L374.6,143.2 L374.9,144.1 L375.2,145.1 L375.5,146.1 L375.7,147.1 L376.0,148.0 L376.2,149.0 L376.4,150.0 L376.7,151.0 L376.9,151.9 L377.1,152.9 L377.3,153.9 L377.5,154.9 L377.7,155.9 L377.9,156.8 L378.0,157.8 L378.2,158.8 L378.4,159.8 L378.6,160.8 L378.7,161.8 L378.9,162.8 L379.0,163.8 L379.2,164.8 L379.3,165.8 L379.4,166.8 L379.6,167.7 L379.7,168.7 L379.8,169.7 L379.9,170.7 L380.0,171.7 L380.1,172.7 L380.2,173.7 L380.3,174.7 L380.4,175.7 L380.6,176.7 L380.7,177.7 L380.8,178.7 L381.0,179.7 L381.1,180.7 L381.3,181.7 L381.4,182.7 L381.6,183.6 L381.8,184.6 L382.0,185.6 L382.2,186.6 L382.4,187.6 L382.6,188.6 L382.8,189.5 L383.0,190.5 L383.2,191.5 L383.4,192.5 L383.5,193.5 L383.7,194.5 L383.9,195.5 L384.1,196.4 L384.2,197.4 L384.4,198.4 L384.6,199.4 L384.8,200.4 L384.9,201.4 L385.1,202.4 L385.3,203.4 L385.5,204.3 L385.7,205.3 L385.8,206.3 L386.0,207.3 L386.2,208.3 L386.4,209.3 L386.5,210.3 L386.7,211.2 L386.9,212.2 L387.0,213.2 L387.2,214.2 L387.4,215.2 L387.5,216.2 L387.7,217.2 L387.9,218.2 L388.0,219.2 L388.2,220.1 L388.4,221.1 L388.6,222.1 L388.8,223.1 L389.0,224.1 L389.1,225.1 L389.3,226.1 L389.5,227.0 L389.7,228.0 L389.9,229.0 L390.1,230.0 L390.3,231.0 L390.5,231.9 L390.8,232.9 L391.0,233.9 L391.2,234.9 L391.4,235.9 L391.7,236.8 L391.9,237.8 L392.2,238.8 L392.4,239.8 L392.7,240.7 L393.0,241.7 L393.3,242.6 L393.6,243.6 L393.9,244.5 L394.3,245.5 L394.7,246.5 L395.1,247.4 L395.5,248.3 L396.0,249.2 L396.5,250.0 L397.0,250.8 L397.7,251.6 L398.4,252.4 L399.2,253.0 L400.0,253.6 L400.9,253.9 L401.8,254.3 L402.8,254.6" stroke-width="1.55"/>
<path d="M310.5,111.7 L311.5,111.9 L312.4,112.1 L313.4,112.3 L314.4,112.6 L315.3,112.9 L316.3,113.2 L317.3,113.5 L318.3,113.8 L319.2,114.1 L320.2,114.5 L321.1,114.8 L322.0,115.2 L322.9,115.6 L323.8,116.0 L324.7,116.5 L325.6,116.9 L326.5,117.4 L327.3,117.9 L328.1,118.5 L329.0,119.1 L329.8,119.7 L330.6,120.4 L331.3,121.0 L332.1,121.7 L332.8,122.4 L333.5,123.1 L334.2,123.8 L334.8,124.5 L335.5,125.3 L336.1,126.1 L336.8,126.9 L337.4,127.7 L338.0,128.5 L338.6,129.3 L339.2,130.1 L339.8,130.9 L340.4,131.7 L340.9,132.5 L341.5,133.4 L342.0,134.2 L342.6,135.1 L343.1,135.9 L343.7,136.7 L344.2,137.6 L344.8,138.4 L345.3,139.3 L345.9,140.1 L346.4,140.9 L347.0,141.8 L347.5,142.6 L348.1,143.5 L348.6,144.3 L349.1,145.2 L349.7,146.0 L350.1,146.9 L350.6,147.8 L351.1,148.6 L351.6,149.5 L352.0,150.4 L352.5,151.3 L352.9,152.2 L353.3,153.1 L353.8,154.1 L354.2,155.0 L354.6,155.9 L354.9,156.8 L355.3,157.7 L355.7,158.7 L356.0,159.6 L356.3,160.6 L356.6,161.5 L357.0,162.5 L357.3,163.4 L357.5,164.4 L357.8,165.3 L358.1,166.3 L358.4,167.3 L358.7,168.2 L359.0,169.2 L359.2,170.2 L359.5,171.1 L359.8,172.1 L360.1,173.1 L360.3,174.0 L360.6,175.0 L360.9,176.0 L361.1,176.9 L361.4,177.9 L361.7,178.9 L361.9,179.8 L362.2,180.8 L362.5,181.7 L362.8,182.7 L363.1,183.7 L363.4,184.6 L363.7,185.6 L364.0,186.5 L364.3,187.5 L364.6,188.4 L364.9,189.4 L365.1,190.4 L365.4,191.3 L365.7,192.3 L366.0,193.3 L366.3,194.2 L366.5,195.2 L366.8,196.1 L367.1,197.1 L367.3,198.1 L367.6,199.0 L367.9,200.0 L368.1,201.0 L368.4,201.9 L368.7,202.9 L368.9,203.9 L369.2,204.8 L369.5,205.8 L369.8,206.8 L370.0,207.7 L370.3,208.7 L370.5,209.7 L370.8,210.6 L371.0,211.6 L371.2,212.6 L371.4,213.6 L371.7,214.6 L371.9,215.5 L372.1,216.5 L372.3,217.5 L372.5,218.5 L372.8,219.4 L373.0,220.4 L373.2,221.4 L373.5,222.4 L373.7,223.3 L374.0,224.3 L374.2,225.3 L374.5,226.2 L374.7,227.2 L375.0,228.2 L375.2,229.2 L375.5,230.1 L375.8,231.1 L376.0,232.1 L376.3,233.0 L376.6,234.0 L376.8,235.0 L377.1,235.9 L377.3,236.9 L377.6,237.9 L377.9,238.8 L378.1,239.8 L378.4,240.8 L378.6,241.7 L378.9,242.7 L379.2,243.7 L379.5,244.6 L379.7,245.6 L380.0,246.5 L380.3,247.5 L380.6,248.5 L381.0,249.4 L381.3,250.4 L381.6,251.3 L382.0,252.2 L382.3,253.2 L382.7,254.1 L383.0,255.1 L383.4,256.0 L383.8,256.9 L384.1,257.8 L384.5,258.8 L384.9,259.7 L385.3,260.7 L385.7,261.6 L386.2,262.6 L386.6,263.5 L387.1,264.3 L387.6,265.1 L388.2,265.9 L388.8,266.6 L389.6,267.4 L390.4,268.1 L391.2,268.7 L392.1,269.2 L392.9,269.5 L393.9,269.8 L394.8,270.1 L395.8,270.4 L396.8,270.6 L397.8,270.7" stroke-width="1.55"/>
<path d="M33.5,56.4 L34.5,56.4 L35.5,56.4 L36.5,56.4 L37.5,56.4 L38.5,56.4 L39.5,56.4 L40.5,56.4 L41.5,56.4 L42.5,56.4 L43.5,56.4 L44.5,56.4 L45.5,56.4 L46.5,56.4 L47.5,56.4 L48.5,56.4 L49.5,56.4 L50.6,56.4 L51.6,56.4 L52.6,56.4 L53.6,56.4 L54.6,56.4 L55.6,56.4 L56.6,56.4 L57.6,56.4 L58.6,56.4 L59.6,56.4 L60.6,56.4 L61.6,56.4 L62.6,56.4 L63.6,56.4 L64.6,56.4 L65.6,56.4 L66.6,56.4 L67.6,56.4 L68.6,56.4 L69.6,56.4 L70.6,56.4 L71.6,56.4 L72.6,56.4 L73.6,56.4 L74.6,56.4 L75.6,56.4 L76.6,56.4 L77.6,56.4 L78.6,56.4 L79.6,56.4 L80.6,56.4 L81.6,56.4 L82.6,56.4 L83.7,56.4 L84.7,56.4 L85.7,56.4 L86.7,56.4 L87.7,56.4 L88.7,56.4 L89.7,56.4 L90.7,56.4 L91.7,56.4 L92.7,56.4 L93.7,56.4 L94.7,56.4 L95.7,56.4 L96.7,56.4 L97.7,56.4 L98.7,56.4 L99.7,56.4 L100.7,56.4 L101.7,56.4 L102.7,56.4 L103.7,56.4 L104.7,56.4 L105.7,56.4 L106.7,56.4 L107.7,56.4 L108.7,56.4 L109.7,56.4 L110.7,56.4 L111.7,56.4 L112.7,56.4 L113.7,56.4 L114.7,56.4 L115.7,56.4 L116.8,56.4 L117.8,56.4 L118.8,56.4 L119.8,56.4 L120.8,56.4 L121.8,56.4 L122.8,56.4 L123.8,56.4 L124.8,56.4 L125.8,56.4 L126.8,56.4 L127.8,56.4 L128.8,56.4 L129.8,56.4 L130.8,56.4 L131.8,56.4 L132.8,56.4 L133.8,56.4 L134.8,56.4 L135.8,56.4 L136.8,56.4 L137.8,56.4 L138.8,56.4 L139.8,56.4 L140.8,56.4 L141.8,56.4 L142.8,56.4 L143.8,56.4 L144.8,56.4 L145.8,56.4 L146.8,56.4 L147.8,56.4 L148.9,56.4 L149.9,56.4 L150.9,56.4 L151.9,56.4 L152.9,56.4 L153.9,56.4 L154.9,56.4 L155.9,56.4 L156.9,56.4 L157.9,56.4 L158.9,56.4 L159.9,56.4 L160.9,56.4 L161.9,56.4 L162.9,56.4 L163.9,56.4 L164.9,56.4 L165.9,56.4 L166.9,56.4 L167.9,56.4 L168.9,56.5 L169.9,56.5 L170.9,56.5 L171.9,56.5 L172.9,56.5 L173.9,56.5 L174.9,56.5 L175.9,56.5 L176.9,56.5 L177.9,56.5 L178.9,56.5 L179.9,56.5 L180.9,56.5 L182.0,56.5 L183.0,56.5 L184.0,56.5 L185.0,56.5 L186.0,56.5 L187.0,56.5 L188.0,56.5 L189.0,56.5 L190.0,56.5 L191.0,56.5 L192.0,56.5 L193.0,56.5 L194.0,56.5 L195.0,56.5 L196.0,56.5 L197.0,56.5 L198.0,56.5 L199.0,56.5 L200.0,56.5 L201.0,56.5 L202.0,56.5 L203.0,56.5 L204.0,56.5 L205.0,56.5 L206.0,56.5 L207.0,56.5 L208.0,56.5 L209.0,56.5 L210.0,56.5 L211.0,56.5 L212.0,56.5 L213.0,56.5 L214.0,56.5 L215.1,56.5 L216.1,56.5 L217.1,56.5 L218.1,56.5 L219.1,56.6 L220.1,56.6 L221.1,56.6 L222.1,56.6 L223.1,56.6 L224.1,56.6 L225.1,56.6 L226.1,56.6 L227.1,56.6 L228.1,56.6 L229.1,56.6 L230.1,56.6 L231.1,56.6 L232.1,56.6 L233.1,56.6 L234.1,56.6 L235.1,56.6 L236.1,56.6 L237.1,56.6 L238.1,56.6 L239.1,56.6 L240.1,56.7 L241.1,56.7 L242.1,56.7 L243.1,56.7 L244.1,56.7 L245.1,56.7 L246.1,56.7 L247.1,56.7 L248.2,56.7 L249.2,56.7 L250.2,56.7 L251.2,56.7 L252.2,56.7 L253.2,56.7 L254.2,56.8 L255.2,56.8 L256.2,56.8 L257.2,56.8 L258.2,56.8 L259.2,56.8 L260.2,56.8 L261.2,56.8 L262.2,56.8 L263.2,56.8 L264.2,56.8 L265.2,56.9 L266.2,56.9 L267.2,56.9 L268.2,56.9 L269.2,56.9 L270.2,56.9 L271.2,56.9 L272.2,57.0 L273.2,57.0 L274.2,57.0 L275.2,57.0 L276.3,57.0 L277.3,57.1 L278.3,57.1 L279.3,57.1 L280.3,57.1 L281.3,57.2 L282.3,57.2 L283.3,57.2 L284.3,57.3 L285.3,57.3 L286.3,57.3 L287.3,57.4 L288.3,57.4 L289.3,57.4 L290.3,57.5 L291.3,57.5 L292.3,57.5 L293.3,57.6 L294.3,57.6 L295.3,57.7 L296.3,57.7 L297.3,57.8 L298.3,57.8 L299.3,57.9 L300.3,57.9 L301.3,58.0 L302.3,58.0 L303.3,58.1 L304.3,58.2 L305.4,58.3 L306.4,58.4 L307.4,58.5 L308.4,58.7 L309.4,58.8 L310.4,59.0 L311.4,59.1 L312.4,59.3 L313.4,59.5 L314.4,59.7 L315.3,59.9 L316.3,60.1 L317.2,60.3 L318.1,60.6 L319.0,61.0 L319.9,61.4 L320.8,62.0 L321.6,62.5 L322.5,63.1 L323.3,63.7 L324.1,64.3 L324.9,64.9 L325.7,65.5 L326.5,66.1 L327.3,66.7 L328.1,67.4 L328.9,68.0 L329.7,68.6 L330.4,69.3 L331.2,70.0 L331.9,70.7 L332.7,71.4 L333.4,72.1 L334.1,72.8 L334.8,73.5 L335.5,74.2 L336.1,74.9 L336.8,75.7 L337.5,76.4 L338.1,77.2 L338.7,78.0 L339.4,78.8 L340.0,79.6 L340.6,80.4 L341.2,81.2 L341.8,82.0 L342.4,82.8 L343.0,83.6 L343.6,84.4 L344.2,85.2 L344.8,86.0 L345.3,86.9 L345.9,87.7 L346.5,88.5 L347.0,89.3 L347.6,90.2 L348.2,91.0 L348.7,91.8 L349.3,92.7 L349.8,93.5 L350.3,94.4 L350.9,95.2 L351.4,96.1 L352.0,96.9 L352.5,97.8 L353.0,98.6 L353.6,99.5 L354.1,100.3 L354.6,101.2 L355.2,102.0 L355.7,102.9 L356.2,103.7 L356.8,104.6 L357.3,105.4 L357.8,106.3 L358.3,107.1 L358.9,108.0 L359.4,108.9 L359.9,109.7 L360.4,110.6 L360.9,111.5 L361.4,112.4 L362.0,113.2 L362.5,114.0 L363.1,114.8 L363.8,115.6 L364.4,116.3 L365.1,117.1 L365.9,117.8 L366.7,118.4 L367.5,119.0 L368.3,119.5 L369.2,120.0 L370.1,120.5 L371.1,120.9 L372.0,121.0 L373.0,120.9 L374.0,120.5 L375.0,120.0 L375.8,119.5 L376.5,118.9 L377.1,118.2 L377.7,117.4 L378.2,116.5 L378.7,115.6 L379.1,114.6 L379.6,113.7 L380.0,112.8 L380.5,111.9 L380.9,110.9 L381.3,110.0 L381.7,109.1 L382.0,108.2 L382.4,107.2 L382.8,106.3 L383.1,105.4 L383.5,104.4 L383.9,103.5 L384.2,102.5 L384.6,101.6 L384.8,100.6 L385.1,99.7 L385.3,98.7 L385.5,97.7 L385.7,96.7 L385.8,95.7 L386.0,94.8 L386.1,93.8 L386.3,92.8 L386.4,91.8 L386.6,90.8 L386.8,89.8 L386.9,88.8 L387.1,87.8 L387.3,86.8 L387.5,85.8 L387.7,84.9 L387.9,83.9 L388.2,82.9 L388.4,81.9 L388.6,80.9 L388.9,80.0 L389.1,79.0 L389.4,78.0 L389.6,77.1 L389.9,76.1 L390.1,75.1 L390.4,74.1 L390.7,73.2 L390.9,72.2 L391.2,71.2 L391.5,70.2 L391.8,69.2 L392.1,68.3 L392.4,67.3 L392.7,66.4 L393.1,65.5 L393.5,64.6 L394.0,63.7 L394.6,62.8 L395.2,62.0 L395.8,61.2 L396.5,60.4 L397.2,59.9 L398.0,59.4 L398.9,58.9 L399.8,58.4 L400.8,58.0 L401.8,57.7 L402.8,57.4 L403.8,57.2 L404.8,57.1 L405.7,57.0 L406.7,57.0 L407.7,56.9 L408.7,56.9 L409.7,56.9 L410.7,56.8 L411.7,56.8 L412.7,56.8 L413.8,56.8 L414.8,56.7 L415.8,56.7 L416.8,56.7 L417.8,56.7 L418.8,56.7 L419.8,56.6 L420.8,56.6 L421.8,56.6 L422.8,56.6 L423.8,56.6 L424.8,56.6 L425.8,56.5 L426.8,56.5 L427.8,56.5 L428.8,56.5 L429.8,56.5 L430.8,56.5 L431.8,56.5 L432.8,56.4 L433.8,56.4 L434.8,56.4 L435.8,56.4 L436.8,56.4 L437.9,56.4 L438.9,56.4 L439.9,56.4 L440.9,56.4 L441.9,56.4 L442.9,56.4 L443.9,56.4 L444.9,56.4 L445.9,56.4 L446.9,56.4 L447.9,56.4 L448.9,56.4 L449.9,56.4 L450.9,56.4 L451.9,56.4 L452.9,56.4 L453.9,56.4 L454.9,56.4 L455.9,56.4 L456.9,56.4 L457.9,56.4 L458.9,56.4 L459.9,56.4 L460.9,56.4 L461.9,56.4 L462.9,56.4 L463.9,56.4 L464.9,56.4 L465.9,56.5 L466.9,56.5 L467.9,56.5 L468.9,56.5 L469.9,56.5 L471.0,56.5 L472.0,56.5 L473.0,56.5 L474.0,56.5 L475.0,56.5 L476.0,56.5 L477.0,56.5 L478.0,56.6 L479.0,56.6 L480.0,56.6 L481.0,56.6 L482.0,56.6 L483.0,56.6 L484.0,56.6 L485.0,56.7 L486.0,56.7 L487.0,56.7" stroke-width="1.4" stroke-dasharray="8.05 2.2 1.15 2.2"/>
</g>
<g font-family="'Liberation Sans', Arial, Helvetica, sans-serif" fill="#111">
<g font-size="14">
<text x="8.2" y="32.9">TG /%</text>
<text x="43" y="74.3">DTG</text>
<text x="47" y="126.7">TG</text>
<text x="48" y="256.3">DSC</text>
<text x="213.8" y="318.4" font-size="14.35">Temperature/°C</text>
<text x="439.5" y="17.8">DSC/mW mg<tspan font-size="8.6" dy="-5.6">−1</tspan></text>
<text x="478.7" y="35.3">DTG/% min<tspan font-size="8.6" dy="-5.6">−1</tspan></text>
<text x="453.2" y="44.2">Exo</text>
</g>
<path d="M448.3,34.8V44.6M446,41.6L448.3,44.8L450.6,41.6" stroke="#111" stroke-width="0.9" fill="none"/>
<g font-size="12">
<text x="20.3" y="284.7" text-anchor="end">30</text>
<text x="20.3" y="260.2" text-anchor="end">40</text>
<text x="20.3" y="235.8" text-anchor="end">50</text>
<text x="20.3" y="211.3" text-anchor="end">60</text>
<text x="20.3" y="186.9" text-anchor="end">70</text>
<text x="20.3" y="162.5" text-anchor="end">80</text>
<text x="20.3" y="138.0" text-anchor="end">90</text>
<text x="20.3" y="113.6" text-anchor="end">100</text>
<text x="20.3" y="89.1" text-anchor="end">110</text>
<text x="20.3" y="64.7" text-anchor="end">120</text>
<text x="91.2" y="297.8" text-anchor="middle">100</text>
<text x="170.3" y="297.8" text-anchor="middle">200</text>
<text x="249.5" y="297.8" text-anchor="middle">300</text>
<text x="328.6" y="297.8" text-anchor="middle">400</text>
<text x="407.8" y="297.8" text-anchor="middle">500</text>
<text x="486.9" y="297.8" text-anchor="middle">600</text>
<text x="499.8" y="264.2">0.0</text>
<text x="499.8" y="210.4">0.5</text>
<text x="499.8" y="156.7">1.0</text>
<text x="499.8" y="102.9">1.5</text>
<text x="536.6" y="61.3">0</text>
<text x="536.6" y="87.7">−5</text>
<text x="536.6" y="114.0">−10</text>
<text x="536.6" y="140.4">−15</text>
<text x="536.6" y="166.7">−20</text>
<text x="536.6" y="193.1">−25</text>
<text x="536.6" y="219.5">−30</text>
<text x="536.6" y="245.8">−35</text>
<text x="536.6" y="272.2">−40</text>
</g>
<g font-size="10.4" stroke="#111" stroke-width="0.18">
<text x="48.4" y="159.3">Glass transition:</text>
<text x="48.8" y="170.5">Onset:</text>
<text x="101.9" y="170.5">66.1 °C</text>
<text x="49.6" y="181.1">Mid:</text>
<text x="100.8" y="181.1">74.4 °C</text>
<text x="49.3" y="193.2">End:</text>
<text x="101.9" y="193.2">78.0 °C</text>
<text x="48.8" y="203.5" font-size="10.3">Delta Cp*:</text>
<text x="101.4" y="203.5">0.039 J/g k</text>
<text x="214.8" y="135.7">Onset:</text>
<text x="294.5" y="135.8">418.0 °C</text>
<text x="215.0" y="145.5">Mid:</text>
<text x="294.5" y="145.4">446.3 °C</text>
<text x="215.2" y="157.1" font-size="10.3">Inflection:</text>
<text x="293.6" y="157.0">456.0 °C</text>
<text x="215.0" y="166.8">End:</text>
<text x="294.5" y="166.7">474.3 °C</text>
<text x="216.0" y="177.9" font-size="10.35">Mass change:</text>
<text x="294.6" y="178.2">−66.26%</text>
<text x="164.1" y="232.1" font-size="10.5">Complex peak:</text>
<text x="164.3" y="243.8" font-size="10.5">Area:</text>
<text x="197" y="243.8" font-size="10.5">45.24 J g<tspan font-size="8" dy="-4.3">−1</tspan></text>
<text x="164.2" y="255.5" font-size="10.5">Peak:</text>
<text x="198.3" y="255.5" font-size="10.7">258.4 °C</text>
<text x="163.7" y="264.2" font-size="10.5">Onset:</text>
<text x="199.7" y="264.2" font-size="10.7">246.8 °C</text>
<text x="164.2" y="276.4" font-size="10.5">End:</text>
<text x="198.9" y="276.4" font-size="10.7">264.3 °C</text>
<text x="392.2" y="137.9">Peak: 456.0°C</text>
</g>
</g>
</svg>
</body></html>
